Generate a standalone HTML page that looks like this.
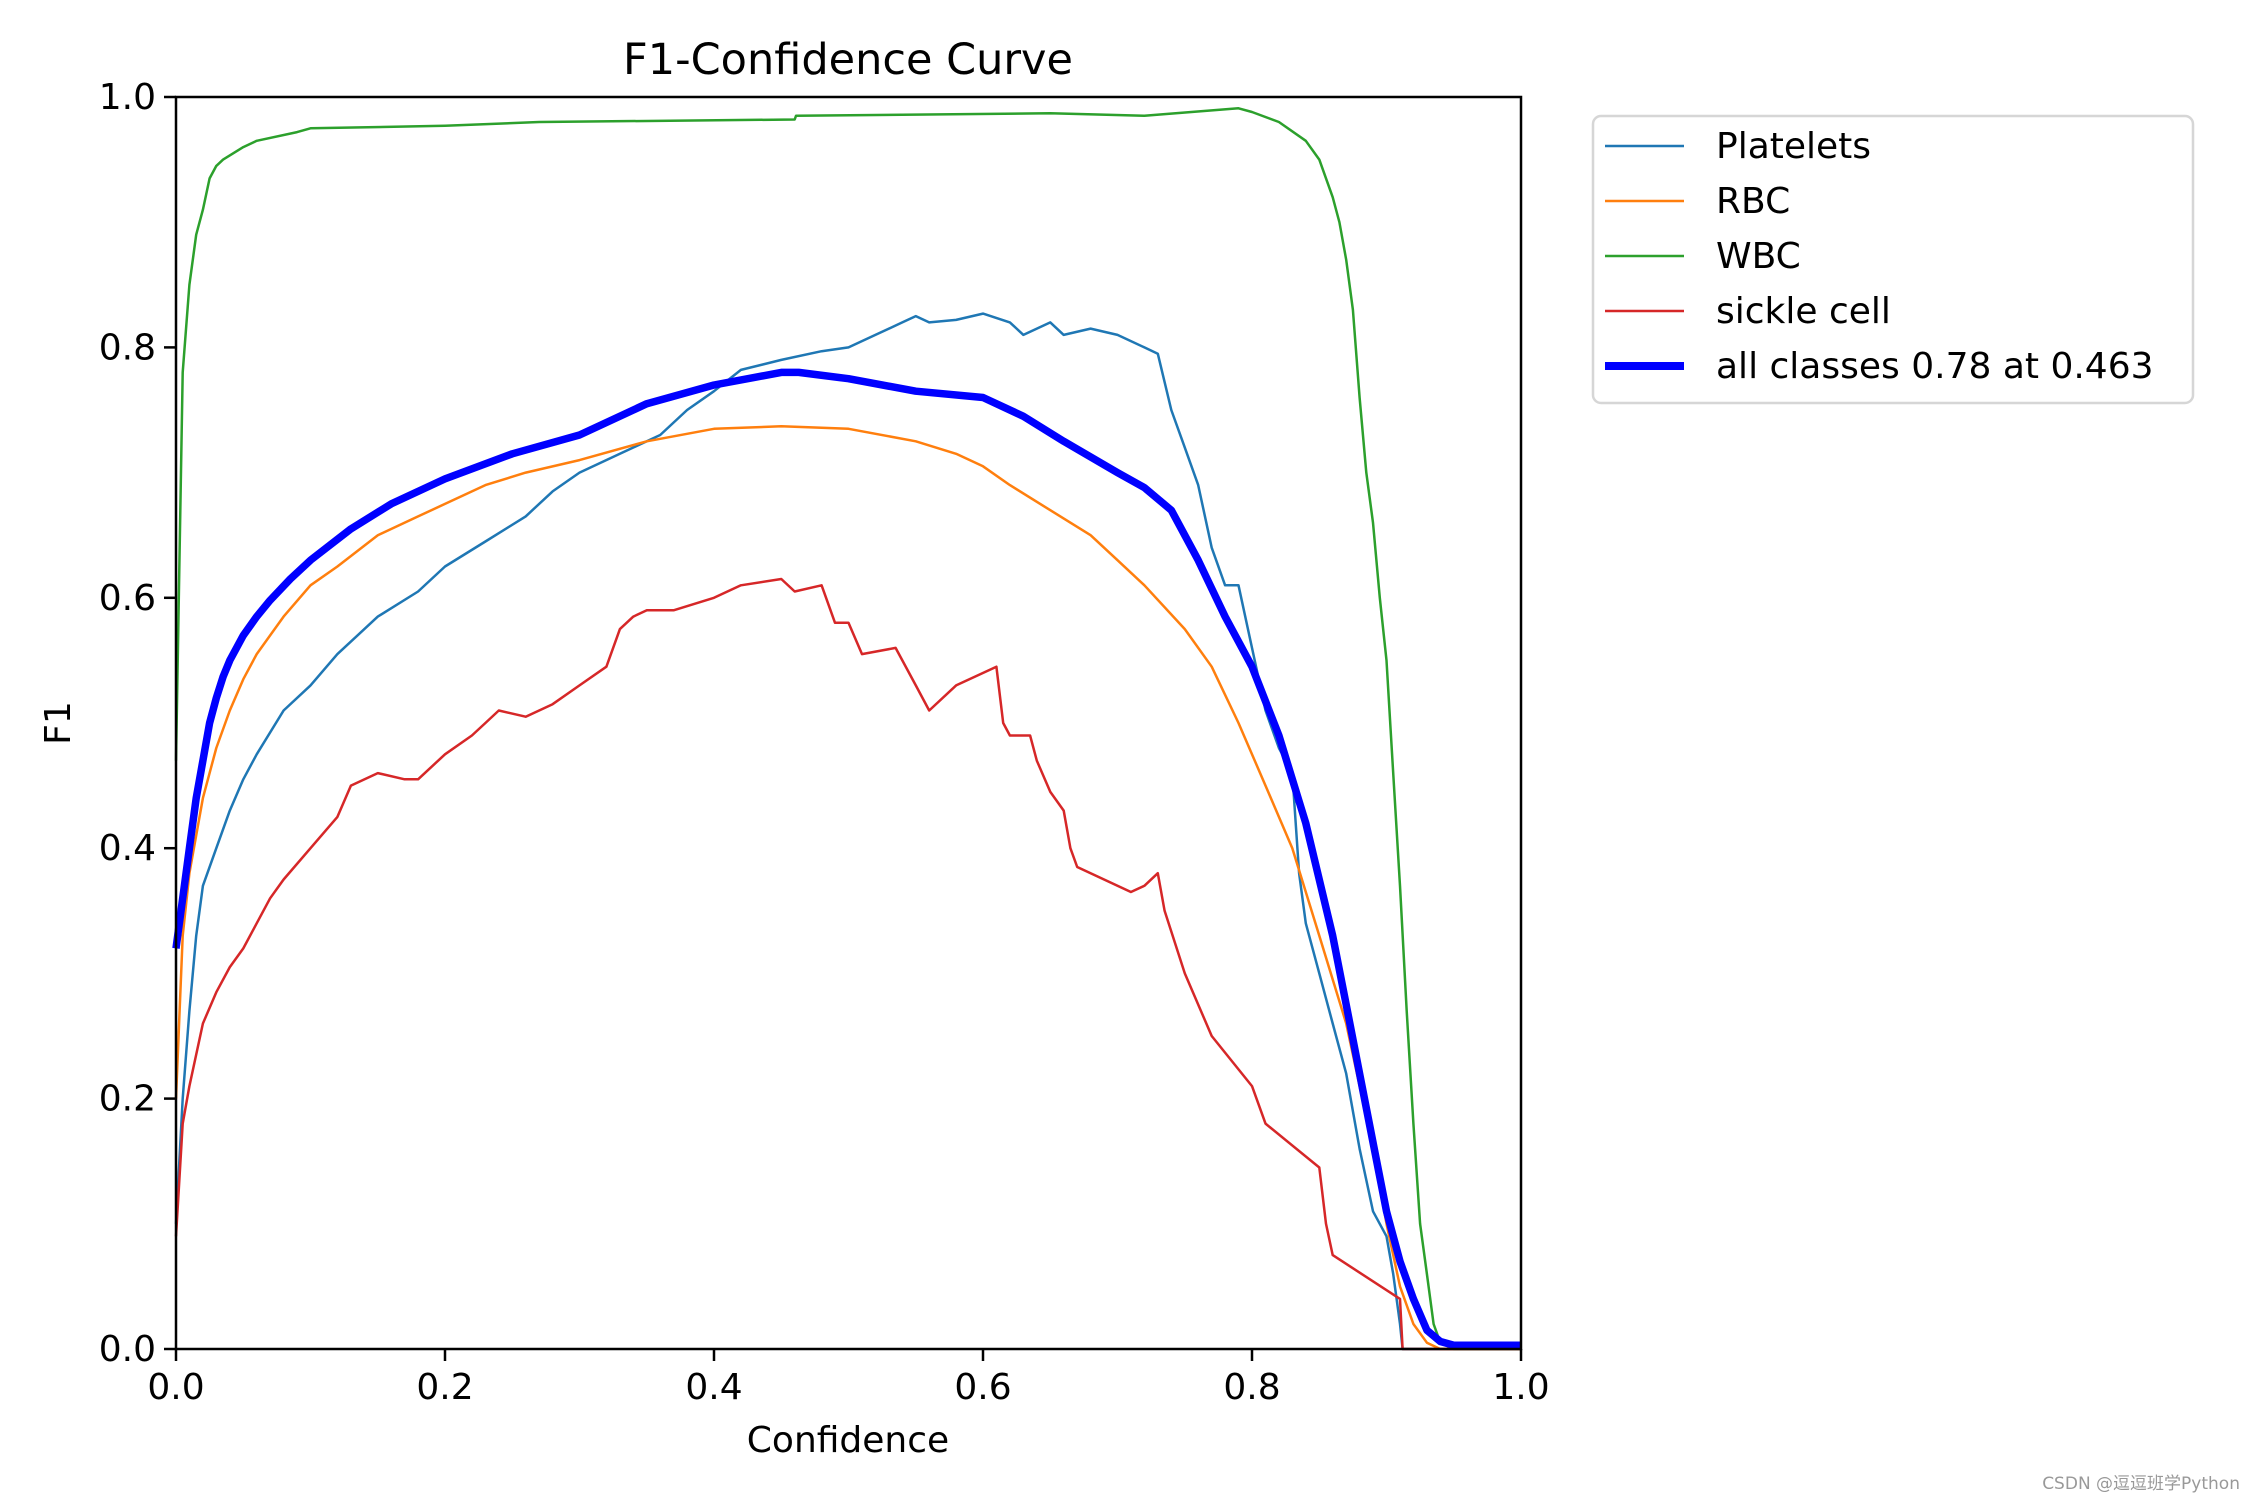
<!DOCTYPE html>
<html><head><meta charset="utf-8"><style>
html,body{margin:0;padding:0;background:#fff;}
svg text{font-family:"DejaVu Sans","Liberation Sans","Noto Sans CJK SC",sans-serif;}
</style></head><body>
<svg id="chart" width="2250" height="1500" viewBox="0 0 2250 1500" xmlns="http://www.w3.org/2000/svg">
<rect width="2250" height="1500" fill="#fff"/>
<text x="848" y="74" font-size="43" text-anchor="middle">F1-Confidence Curve</text>
<g id="plot"></g>
<g id="axes"></g>
<text x="848" y="1452" font-size="36" text-anchor="middle">Confidence</text>
<text x="70" y="723" font-size="36" text-anchor="middle" transform="rotate(-90 70 723)">F1</text>
<g>
<rect x="1593" y="116" width="600" height="287" rx="8" fill="#fff" stroke="#d6d6d6" stroke-width="2.5"/>
<g><line x1="1605" y1="146" x2="1684" y2="146" stroke="#1f77b4" stroke-width="2.5"/><text x="1716" y="158" font-size="36">Platelets</text></g>
<g><line x1="1605" y1="201" x2="1684" y2="201" stroke="#ff7f0e" stroke-width="2.5"/><text x="1716" y="213" font-size="36">RBC</text></g>
<g><line x1="1605" y1="256" x2="1684" y2="256" stroke="#2ca02c" stroke-width="2.5"/><text x="1716" y="268" font-size="36">WBC</text></g>
<g><line x1="1605" y1="311" x2="1684" y2="311" stroke="#d62728" stroke-width="2.5"/><text x="1716" y="323" font-size="36">sickle cell</text></g>
<g><line x1="1605" y1="366" x2="1684" y2="366" stroke="#0000ff" stroke-width="8"/><text x="1716" y="378" font-size="36">all classes 0.78 at 0.463</text></g>
</g>
<text x="2240" y="1489" font-size="17" fill="#999" text-anchor="end">CSDN @逗逗班学Python</text>
</svg>
<script>
const xTicks=[0,0.2,0.4,0.6,0.8,1.0];
const yTicks=[0,0.2,0.4,0.6,0.8,1.0];
const tickLabels=["0.0","0.2","0.4","0.6","0.8","1.0"];
const plateletsX=[0,0.005,0.01,0.015,0.02,0.03,0.04,0.05,0.06,0.08,0.1,0.12,0.15,0.18,0.2,0.23,0.26,0.28,0.3,0.33,0.36,0.38,0.4,0.42,0.45,0.48,0.5,0.52,0.54,0.55,0.56,0.58,0.6,0.62,0.63,0.65,0.66,0.68,0.7,0.72,0.73,0.74,0.75,0.76,0.77,0.78,0.79,0.8,0.81,0.82,0.83,0.835,0.84,0.85,0.86,0.87,0.88,0.89,0.9,0.905,0.91,0.912,1];
const plateletsY=[0.1,0.2,0.27,0.33,0.37,0.4,0.43,0.455,0.475,0.51,0.53,0.555,0.585,0.605,0.625,0.645,0.665,0.685,0.7,0.715,0.73,0.75,0.765,0.782,0.79,0.797,0.8,0.81,0.82,0.825,0.82,0.822,0.827,0.82,0.81,0.82,0.81,0.815,0.81,0.8,0.795,0.75,0.72,0.69,0.64,0.61,0.61,0.56,0.51,0.48,0.46,0.38,0.34,0.3,0.26,0.22,0.16,0.11,0.09,0.06,0.02,0,0];
const rbcX=[0,0.005,0.01,0.02,0.03,0.04,0.05,0.06,0.08,0.1,0.12,0.15,0.18,0.2,0.23,0.26,0.3,0.35,0.4,0.45,0.5,0.55,0.58,0.6,0.62,0.65,0.68,0.7,0.72,0.75,0.77,0.79,0.81,0.83,0.85,0.87,0.88,0.89,0.9,0.91,0.92,0.93,0.94,1];
const rbcY=[0.2,0.33,0.38,0.44,0.48,0.51,0.535,0.555,0.585,0.61,0.625,0.65,0.665,0.675,0.69,0.7,0.71,0.725,0.735,0.737,0.735,0.725,0.715,0.705,0.69,0.67,0.65,0.63,0.61,0.575,0.545,0.5,0.45,0.4,0.33,0.26,0.21,0.16,0.1,0.05,0.02,0.005,0,0];
const wbcX=[0,0.005,0.01,0.015,0.02,0.025,0.03,0.035,0.05,0.06,0.09,0.1,0.2,0.27,0.46,0.461,0.65,0.72,0.79,0.8,0.82,0.84,0.85,0.86,0.865,0.87,0.875,0.88,0.885,0.89,0.895,0.9,0.905,0.91,0.915,0.92,0.925,0.93,0.935,0.94,0.95,1];
const wbcY=[0.47,0.78,0.85,0.89,0.91,0.935,0.945,0.95,0.96,0.965,0.972,0.975,0.977,0.98,0.982,0.985,0.987,0.985,0.991,0.988,0.98,0.965,0.95,0.92,0.9,0.87,0.83,0.76,0.7,0.66,0.6,0.55,0.46,0.37,0.27,0.18,0.1,0.06,0.02,0.005,0,0];
const sickleX=[0,0.005,0.01,0.02,0.03,0.04,0.05,0.06,0.07,0.08,0.1,0.12,0.13,0.15,0.17,0.18,0.2,0.22,0.23,0.24,0.26,0.28,0.3,0.32,0.33,0.34,0.35,0.37,0.4,0.42,0.45,0.46,0.48,0.49,0.5,0.51,0.535,0.55,0.56,0.58,0.61,0.615,0.62,0.635,0.64,0.65,0.66,0.665,0.67,0.71,0.72,0.73,0.735,0.75,0.77,0.8,0.81,0.85,0.855,0.86,0.91,0.912,1];
const sickleY=[0.09,0.18,0.21,0.26,0.285,0.305,0.32,0.34,0.36,0.375,0.4,0.425,0.45,0.46,0.455,0.455,0.475,0.49,0.5,0.51,0.505,0.515,0.53,0.545,0.575,0.585,0.59,0.59,0.6,0.61,0.615,0.605,0.61,0.58,0.58,0.555,0.56,0.53,0.51,0.53,0.545,0.5,0.49,0.49,0.47,0.445,0.43,0.4,0.385,0.365,0.37,0.38,0.35,0.3,0.25,0.21,0.18,0.145,0.1,0.075,0.04,0,0];
const allX=[0,0.005,0.01,0.015,0.02,0.025,0.03,0.035,0.04,0.05,0.06,0.07,0.085,0.1,0.13,0.16,0.2,0.25,0.3,0.35,0.4,0.45,0.463,0.5,0.55,0.6,0.63,0.66,0.7,0.72,0.74,0.76,0.78,0.8,0.82,0.84,0.86,0.87,0.88,0.89,0.9,0.91,0.92,0.93,0.94,0.95,1];
const allY=[0.32,0.36,0.4,0.44,0.47,0.5,0.52,0.537,0.55,0.57,0.585,0.598,0.615,0.63,0.655,0.675,0.695,0.715,0.73,0.755,0.77,0.78,0.78,0.775,0.765,0.76,0.745,0.725,0.7,0.688,0.67,0.63,0.585,0.545,0.49,0.42,0.33,0.275,0.22,0.165,0.11,0.07,0.04,0.015,0.006,0.003,0.003];

const X0=176,X1=1521,Y0=1349,Y1=97;
function sx(v){return X0+v*(X1-X0);}
function sy(v){return Y0-v*(Y0-Y1);}
const NS="http://www.w3.org/2000/svg";
const plot=document.getElementById('plot');
const axes=document.getElementById('axes');
function series(xs,ys,color,w,name){
  const p=document.createElementNS(NS,'path');
  let d='';
  for(let i=0;i<xs.length;i++){d+=(i?'L':'M')+sx(xs[i]).toFixed(1)+' '+sy(ys[i]).toFixed(1);}
  p.setAttribute('d',d);
  p.setAttribute('fill','none');
  p.setAttribute('stroke',color);
  p.setAttribute('stroke-width',w);
  p.setAttribute('stroke-linejoin','round');
  
  
  plot.appendChild(p);
}
series(plateletsX,plateletsY,'#1f77b4',2.5,'platelets-line');
series(rbcX,rbcY,'#ff7f0e',2.5,'rbc-line');
series(wbcX,wbcY,'#2ca02c',2.5,'wbc-line');
series(sickleX,sickleY,'#d62728',2.5,'sickle-cell-line');
series(allX,allY,'#0000ff',7.5,'all-classes-line');

const frame=document.createElementNS(NS,'rect');
frame.setAttribute('x',X0);frame.setAttribute('y',Y1);
frame.setAttribute('width',X1-X0);frame.setAttribute('height',Y0-Y1);
frame.setAttribute('fill','none');frame.setAttribute('stroke','#000');frame.setAttribute('stroke-width','2.5');


axes.appendChild(frame);
xTicks.forEach((t,i)=>{
  const l=document.createElementNS(NS,'line');
  l.setAttribute('x1',sx(t));l.setAttribute('x2',sx(t));l.setAttribute('y1',Y0);l.setAttribute('y2',Y0+12);
  l.setAttribute('stroke','#000');l.setAttribute('stroke-width','2.5');
  
  
  axes.appendChild(l);
  const tx=document.createElementNS(NS,'text');
  tx.setAttribute('x',sx(t));tx.setAttribute('y',Y0+50);tx.setAttribute('font-size','36');tx.setAttribute('text-anchor','middle');
  tx.textContent=tickLabels[i];
  
  
  axes.appendChild(tx);
});
yTicks.forEach((t,i)=>{
  const l=document.createElementNS(NS,'line');
  l.setAttribute('x1',X0-12);l.setAttribute('x2',X0);l.setAttribute('y1',sy(t));l.setAttribute('y2',sy(t));
  l.setAttribute('stroke','#000');l.setAttribute('stroke-width','2.5');
  
  
  axes.appendChild(l);
  const tx=document.createElementNS(NS,'text');
  tx.setAttribute('x',X0-20);tx.setAttribute('y',sy(t)+12);tx.setAttribute('font-size','36');tx.setAttribute('text-anchor','end');
  tx.textContent=tickLabels[i];
  
  
  axes.appendChild(tx);
});
</script>
</body></html>
